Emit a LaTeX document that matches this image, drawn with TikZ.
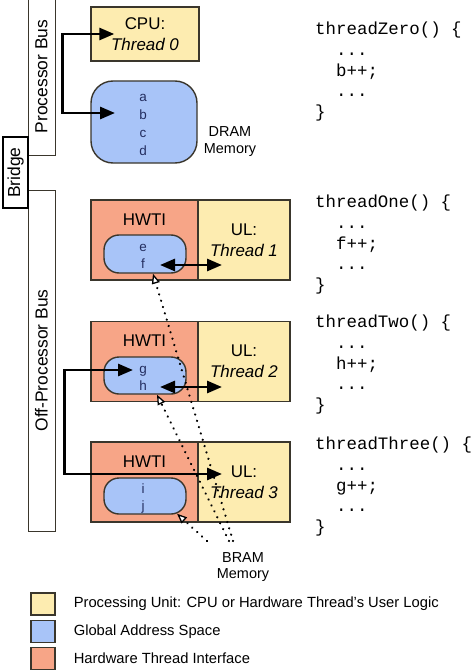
\documentclass[tikz,border=0pt]{standalone}
\usepackage{fontspec}
\setmainfont{Liberation Sans}
\setmonofont{Liberation Mono}
\usepackage{graphicx}
\usetikzlibrary{arrows.meta,positioning}
\definecolor{puyellow}{RGB}{253,236,176}
\definecolor{gasblue}{RGB}{168,196,248}
\definecolor{htisalmon}{RGB}{247,165,135}
\definecolor{edgegray}{RGB}{58,54,44}
\definecolor{varblue}{RGB}{35,45,95}
\begin{document}
\begin{tikzpicture}[x=1bp, y=-1bp,
    busbox/.style={draw=edgegray, line width=0.9bp, fill=white, inner sep=0pt, font=\fontsize{17.5}{20}\selectfont},
    pubox/.style={draw=edgegray, line width=1.4bp, fill=puyellow, inner sep=0pt, align=center, font=\fontsize{17}{21}\selectfont},
    htibox/.style={draw=edgegray, line width=1.4bp, fill=htisalmon, inner sep=0pt, minimum width=107bp, minimum height=80bp},
    gasblob/.style={draw=edgegray, line width=1.4bp, fill=gasblue, inner sep=0pt},
    var/.style={text=varblue, inner sep=0pt, text height=9.5bp, text depth=3bp, font=\fontsize{13.5}{16}\selectfont},
    lbl/.style={inner sep=0pt, font=\fontsize{17}{21}\selectfont},
    memlbl/.style={inner sep=0pt, align=center, font=\fontsize{14.5}{17}\selectfont},
    code/.style={inner sep=0pt, anchor=north west, align=left, font=\ttfamily\fontsize{17.5}{20.75}\selectfont},
    wire/.style={line width=2.8bp, {Triangle[length=15bp,width=12bp]}-{Triangle[length=15bp,width=12bp]}},
    bramlink/.style={line width=2.4bp, dash pattern=on 0.1bp off 6.5bp, line cap=round, -{Triangle[fill=white,length=10bp,width=8bp,line width=1.3bp]}},
    keybox/.style={draw=edgegray, line width=1.2bp, minimum width=24bp, minimum height=22bp, inner sep=0pt},
    keytext/.style={inner sep=0pt, font=\fontsize{14.8}{17}\selectfont}]
  \useasboundingbox (0,0) rectangle (474,671);
  % buses
  \node[busbox, minimum width=27bp, minimum height=157bp] (pbus) at (41.5,76.5) {\rotatebox{90}{Processor Bus}};
  \node[busbox, minimum width=27bp, minimum height=341bp] (obus) at (41.5,360.5) {\rotatebox{90}{Off-Processor Bus}};
  \node[busbox, draw=black, line width=1.4bp, minimum width=25bp, minimum height=71bp] (bridge) at (15.5,172.5) {\rotatebox{90}{Bridge}};
  % cpu and dram
  \node[pubox, minimum width=108bp, minimum height=54bp] (cpu) at (145,34) {CPU:\\\textit{Thread 0}};
  \node[gasblob, rounded corners=22bp, minimum width=106bp, minimum height=82bp] (dram) at (144,122) {};
  \node[var] (va) at (143,98) {a};
  \node[var] (vb) at (143,116) {b};
  \node[var] (vc) at (143,134) {c};
  \node[var] (vd) at (143,152) {d};
  \node[memlbl] (dramlbl) at (230,141.5) {DRAM\\Memory};
  % hardware threads
  \node[htibox] (hwti1) at (144.5,240) {};
  \node[pubox, minimum width=92bp, minimum height=80bp] (ul1) at (244,240) {UL:\\\textit{Thread 1}};
  \node[lbl, below=14bp of hwti1.north] (hl1) {HWTI};
  \node[gasblob, rounded corners=15bp, minimum width=82bp, minimum height=38bp] (blob1) at (145,254) {};
  \node[var] (ve) at (143,248) {e};
  \node[var] (vf) at (143,265) {f};

  \node[htibox] (hwti2) at (144.5,361.5) {};
  \node[pubox, minimum width=92bp, minimum height=80bp] (ul2) at (244,361.5) {UL:\\\textit{Thread 2}};
  \node[lbl, below=14bp of hwti2.north] (hl2) {HWTI};
  \node[gasblob, rounded corners=15bp, minimum width=82bp, minimum height=37bp] (blob2) at (145,375.5) {};
  \node[var] (vg) at (143,370) {g};
  \node[var] (vh) at (143,387) {h};

  \node[htibox] (hwti3) at (144.5,482) {};
  \node[pubox, minimum width=92bp, minimum height=80bp] (ul3) at (244,482) {UL:\\\textit{Thread 3}};
  \node[lbl, below=14bp of hwti3.north] (hl3) {HWTI};
  \node[gasblob, rounded corners=15bp, minimum width=82bp, minimum height=36bp] (blob3) at (145,496) {};
  \node[var] (vi) at (143,490) {i};
  \node[var] (vj) at (143,507) {j};

  \node[memlbl] (bram) at (243,567) {BRAM\\Memory};
  % thick connectors
  \coordinate (gtip) at ([xshift=-10bp]vg.center);
  \coordinate (obx) at ([xshift=9bp]obus.east);
  \draw[wire] ([xshift=24bp]cpu.west) -| ([xshift=7bp]pbus.east) |- ([xshift=-28bp,yshift=3bp]vb.center);
  \draw[wire] (gtip) -- (gtip -| obx) |- ([xshift=-22bp,yshift=8bp]ul3.center);
  \draw[wire] ([xshift=17bp]vf.center) -- ([xshift=-22bp]ul1.center |- vf.center);
  \draw[wire] ([xshift=17bp]vh.center) -- ([xshift=-22bp]ul2.center |- vh.center);
  % bram links
  \coordinate (br1) at (233,541);
  \coordinate (br2) at (229,541);
  \coordinate (br3) at (207,541);
  \draw[bramlink] (br1) -- ([xshift=8bp]blob1.south);
  \draw[bramlink] (br2) -- ([xshift=12bp]blob2.south);
  \draw[bramlink] (br3) -- ([xshift=32bp,yshift=1bp]blob3.south);
  % code
  \node[code] (czero) at (315,22) {threadZero() \{\\\hspace*{1.2em}...\\\hspace*{1.2em}b++;\\\hspace*{1.2em}...\\\}};
  \node[code] (cone) at (315,195) {threadOne() \{\\\hspace*{1.2em}...\\\hspace*{1.2em}f++;\\\hspace*{1.2em}...\\\}};
  \node[code] (ctwo) at (315,315) {threadTwo() \{\\\hspace*{1.2em}...\\\hspace*{1.2em}h++;\\\hspace*{1.2em}...\\\}};
  \node[code] (cthree) at (315,437) {threadThree() \{\\\hspace*{1.2em}...\\\hspace*{1.2em}g++;\\\hspace*{1.2em}...\\\}};
  % legend
  \node[keybox, fill=puyellow] (keypu) at (43,604) {};
  \node[keybox, fill=gasblue] (keygas) at (43,631.5) {};
  \node[keybox, fill=htisalmon] (keyhti) at (43,658.5) {};
  \node[keytext, right=18bp of keypu] (txtpu) {Processing Unit: CPU or Hardware Thread's User Logic};
  \node[keytext, right=18bp of keygas] (txtgas) {Global Address Space};
  \node[keytext, right=18bp of keyhti] (txthti) {Hardware Thread Interface};
\end{tikzpicture}
\end{document}
